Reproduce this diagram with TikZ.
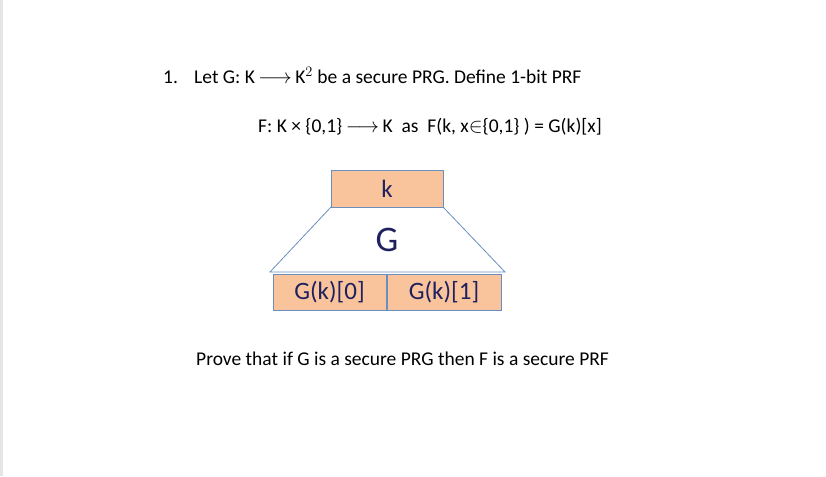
\documentclass[tikz,border=0pt]{standalone}
\usepackage{fontspec}
\setmainfont{Carlito}
\definecolor{boxfill}{HTML}{F9C49C}
\definecolor{boxline}{HTML}{6A8EC0}
\definecolor{navy}{HTML}{1F2060}
\begin{document}
\begin{tikzpicture}[x=1pt,y=-1pt,
  txt/.style={anchor=base west,inner sep=0pt,font=\fontsize{19.5}{22}\selectfont},
  orbox/.style={draw=boxline,fill=boxfill,line width=0.8pt,text=navy,font=\fontsize{25}{28}\selectfont,inner sep=0pt}]
\useasboundingbox (0,0) rectangle (826,476);
\fill[gray!20] (0,0) rectangle (3,476);
\node[txt] (n1) at (163,84) {1.};
\node[txt] (l1) at (194,84) {Let G: K$\,\longrightarrow\,$K$^{2}$ be a secure PRG. Define 1-bit PRF};
\node[txt] (l2) at (258,132) {F: K × \{0,1\}$\,\longrightarrow\,$K \ as \ F(k, x$\in$\{0,1\} ) = G(k)[x]};
\draw[boxline,line width=0.8pt,fill=white] (331,207) -- (270,272) -- (505,272) -- (443,207) -- cycle;
\node[orbox,minimum width=112pt,minimum height=37pt] (k) at (387,188.5) {k};
\node[text=navy,font=\fontsize{36}{38}\selectfont,inner sep=0pt] (G) at (387,240) {G};
\node[orbox,minimum width=113pt,minimum height=36pt] (g0) at (329.5,292) {G(k)[0]};
\node[orbox,minimum width=114pt,minimum height=36pt] (g1) at (444,292) {G(k)[1]};
\node[txt] (p) at (196,365) {Prove that if G is a secure PRG then F is a secure PRF};
\end{tikzpicture}
\end{document}
